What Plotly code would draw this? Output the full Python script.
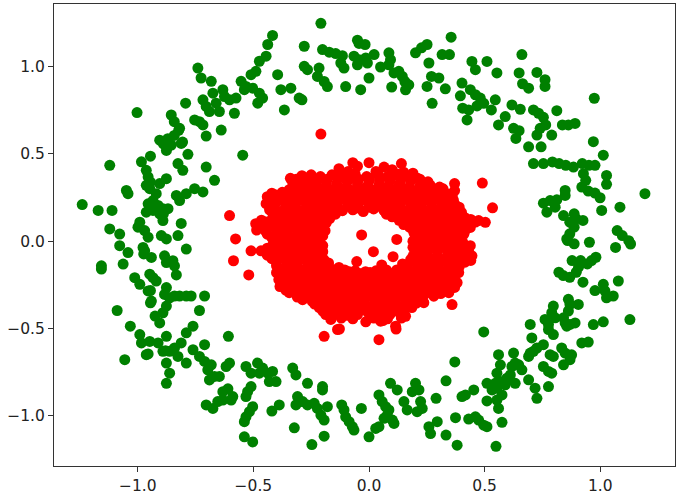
import plotly.graph_objects as go

# Points as (x, y) pairs, grouped by region of the ring

# outer class, upper left arc
green_upper_left = [
    (-0.417, 1.179), (-0.438, 1.127), (-0.445, 1.060), (-0.474, 1.031), (-0.489, 0.973),
    (-0.510, 0.954), (-0.553, 0.916), (-0.532, 0.887), (-0.503, 0.877), (-0.474, 0.848),
    (-0.460, 0.820), (-0.481, 0.791), (-0.539, 0.868), (-0.575, 0.820), (-0.582, 0.733),
    (-0.632, 0.868), (-0.625, 0.829), (-0.603, 0.810), (-0.661, 0.791), (-0.647, 0.743),
    (-0.682, 0.916), (-0.675, 0.848), (-0.740, 0.992), (-0.726, 0.935), (-0.718, 0.810),
    (-0.704, 0.772), (-0.690, 0.743), (-0.754, 0.695), (-0.733, 0.685), (-0.718, 0.666),
    (-0.639, 0.637), (-0.704, 0.602), (-0.793, 0.791), (-0.855, 0.723), (-0.842, 0.685),
    (-0.819, 0.647), (-0.905, 0.579), (-0.876, 0.570), (-0.855, 0.551), (-0.812, 0.560),
    (-0.783, 0.498), (-0.984, 0.455), (-0.546, 0.493), (-1.003, 0.737), (-0.395, 0.954),
    (-0.381, 0.868), (-0.338, 0.877), (-0.302, 0.820), (-0.366, 0.752), (-0.870, 0.587),
    (-0.842, 0.606), (-0.823, 0.635), (-0.806, 0.568), (-0.889, 0.558), (-0.870, 0.539),
    (-0.945, 0.487), (-0.876, 0.520),
]

# outer class, upper right arc
green_upper_right = [
    (-0.208, 1.248), (-0.280, 1.117), (-0.280, 1.002), (-0.266, 0.983), (-0.290, 0.810),
    (-0.201, 1.098), (-0.172, 1.083), (-0.144, 1.075), (-0.115, 1.063), (-0.122, 1.021),
    (-0.108, 0.992), (-0.216, 0.992), (-0.223, 0.944), (-0.194, 0.915), (-0.180, 0.886),
    (-0.101, 0.886), (-0.050, 1.152), (-0.043, 1.133), (-0.017, 1.127), (-0.065, 1.060),
    (-0.043, 1.040), (-0.014, 1.050), (0.022, 1.069), (-0.050, 1.011), (-0.007, 1.021),
    (0.000, 0.935), (-0.036, 0.868), (0.050, 0.998), (0.086, 1.079), (0.093, 1.040),
    (0.086, 1.011), (0.108, 0.964), (0.129, 0.973), (0.144, 0.944), (0.155, 0.915),
    (0.172, 0.896), (0.158, 0.867), (0.098, 0.883), (0.201, 1.079), (0.227, 1.108),
    (0.251, 1.127), (0.259, 1.021), (0.270, 0.944), (0.302, 0.935), (0.251, 0.887),
    (0.330, 0.873), (0.273, 0.790), (0.316, 1.069), (0.348, 1.069), (0.355, 1.169),
    (0.402, 0.906), (0.395, 0.833), (0.405, 0.762), (0.424, 0.695), (0.445, 1.030),
    (0.460, 0.983), (0.510, 1.030), (0.553, 0.964), (0.438, 0.868), (0.460, 0.839),
    (0.481, 0.820), (0.496, 0.790), (0.467, 0.775), (0.431, 0.752), (0.546, 0.810),
    (0.529, 0.752), (0.560, 0.666), (0.589, 0.714), (0.618, 0.781), (0.654, 0.756),
    (0.625, 0.647), (0.649, 0.633), (0.635, 0.589), (0.661, 1.069), (0.649, 0.964),
    (0.664, 0.902), (0.690, 0.877), (0.726, 0.967), (0.761, 0.925), (0.761, 0.887),
    (0.690, 0.541), (0.744, 0.541), (0.711, 0.752), (0.733, 0.733), (0.754, 0.710),
    (0.764, 0.666), (0.740, 0.647), (0.726, 0.608), (0.790, 0.608), (0.812, 0.748),
    (0.836, 0.666), (0.862, 0.666), (0.891, 0.675), (0.974, 0.819), (0.970, 0.570),
    (1.013, 0.493), (0.711, 0.445), (0.754, 0.445), (0.793, 0.454), (0.822, 0.445),
    (0.851, 0.435), (0.884, 0.425), (0.922, 0.445), (0.951, 0.435), (0.977, 0.435),
    (0.927, 0.387), (0.937, 0.349), (0.920, 0.310), (0.948, 0.287), (0.977, 0.276),
    (0.999, 0.249), (1.027, 0.377), (1.027, 0.326), (0.848, 0.291), (0.848, 0.262),
    (0.812, 0.237), (0.754, 0.218), (0.783, 0.233), (0.805, 0.195), (1.085, 0.195),
    (1.193, 0.272), (1.006, 0.176),
]

# outer class, left side
green_left = [
    (-1.121, 0.435), (-0.826, 0.445), (-0.805, 0.406), (-0.704, 0.425), (-0.668, 0.349),
    (-0.963, 0.406), (-0.955, 0.368), (-0.963, 0.320), (-0.905, 0.330), (-0.876, 0.358),
    (-1.049, 0.291), (-1.042, 0.272), (-0.948, 0.301), (-0.920, 0.272), (-0.833, 0.262),
    (-0.819, 0.233), (-0.790, 0.272), (-0.754, 0.301), (-0.718, 0.282), (-1.240, 0.210),
    (-1.171, 0.176), (-1.111, 0.176), (-0.955, 0.214), (-0.934, 0.233), (-0.912, 0.205),
    (-0.963, 0.166), (-0.934, 0.176), (-0.891, 0.186), (-0.869, 0.186), (-0.905, 0.157),
    (-0.891, 0.118), (-0.812, 0.102), (-0.991, 0.109), (-0.999, 0.080), (-0.970, 0.061),
    (-1.121, 0.070), (-1.078, 0.041), (-0.898, 0.032), (-0.876, 0.013), (-0.826, 0.032),
    (-0.790, -0.045), (-0.977, -0.036), (-0.970, -0.055), (-0.941, -0.093), (-1.078, -0.026),
    (-1.042, -0.065), (-1.063, -0.131), (-1.157, -0.141), (-1.157, -0.160), (-0.884, -0.084),
    (-0.876, -0.122), (-0.848, -0.112), (-0.841, -0.141), (-0.833, -0.193), (-1.013, -0.209),
    (-0.991, -0.247), (-0.948, -0.189), (-0.934, -0.209), (-0.920, -0.228), (-0.955, -0.285),
    (-0.941, -0.343), (-0.876, -0.266), (-0.884, -0.305), (-0.862, -0.324), (-0.841, -0.314),
    (-0.819, -0.314), (-0.790, -0.314), (-0.769, -0.314), (-0.711, -0.314), (-0.945, 0.338),
    (-0.889, 0.157), (-0.955, 0.023), (-0.974, -0.073), (-0.945, -0.283),
]

# outer class, lower left arc
green_lower_left = [
    (-1.089, -0.397), (-0.945, -0.353), (-0.925, -0.429), (-0.905, -0.468), (-0.891, -0.410),
    (-0.876, -0.372), (-0.733, -0.397), (-1.032, -0.487), (-0.991, -0.535), (-0.984, -0.583),
    (-0.948, -0.574), (-0.912, -0.583), (-0.876, -0.545), (-0.963, -0.650), (-1.056, -0.679),
    (-0.891, -0.631), (-0.862, -0.631), (-0.841, -0.612), (-0.812, -0.583), (-0.790, -0.525),
    (-0.761, -0.487), (-0.876, -0.698), (-0.862, -0.756), (-0.876, -0.814), (-0.826, -0.660),
    (-0.790, -0.698), (-0.761, -0.622), (-0.733, -0.660), (-0.711, -0.593), (-0.711, -0.689),
    (-0.682, -0.708), (-0.697, -0.737), (-0.668, -0.775), (-0.690, -0.795), (-0.647, -0.775),
    (-0.608, -0.545), (-0.603, -0.698), (-0.618, -0.718), (-0.632, -0.862), (-0.610, -0.846),
    (-0.589, -0.890), (-0.596, -0.910), (-0.632, -0.910), (-0.654, -0.919), (-0.704, -0.938),
    (-0.675, -0.958), (-0.532, -0.718), (-0.510, -0.756), (-0.482, -0.698), (-0.460, -0.727),
    (-0.438, -0.756), (-0.417, -0.746), (-0.402, -0.804), (-0.431, -0.804), (-0.474, -0.756),
    (-0.510, -0.833), (-0.525, -0.862), (-0.532, -0.890), (-0.503, -0.948), (-0.517, -0.977),
    (-0.532, -1.006), (-0.539, -1.034), (-0.539, -1.121), (-0.503, -1.150), (-0.388, -0.938),
    (-0.420, -0.973), (-0.330, -0.727), (-0.316, -0.766), (-0.266, -0.814), (-0.201, -0.833),
    (-0.201, -0.852), (-0.309, -0.890), (-0.302, -0.919), (-0.316, -0.938), (-0.287, -0.919),
    (-0.266, -0.938), (-0.237, -0.929), (-0.223, -0.958), (-0.180, -0.948), (-0.208, -0.996),
    (-0.194, -1.025), (-0.323, -1.069), (-0.194, -1.117), (-0.247, -1.165), (-0.118, -0.938),
    (-0.108, -0.967), (-0.101, -1.006), (-0.086, -1.034), (-0.065, -1.082), (-0.072, -1.063),
    (-0.033, -0.958), (0.000, -1.121), (-0.955, -0.646), (-0.880, -0.627),
]

# outer class, lower right arc
green_lower_right = [
    (0.043, -0.881), (0.057, -0.919), (0.072, -0.948), (0.086, -0.967), (0.079, -0.996),
    (0.101, -1.025), (0.108, -1.044), (0.043, -1.063), (0.029, -1.073), (0.065, -1.015),
    (0.093, -0.814), (0.122, -0.852), (0.151, -0.919), (0.165, -0.967), (0.201, -0.814),
    (0.216, -0.852), (0.187, -0.862), (0.223, -0.919), (0.230, -0.958), (0.208, -0.977),
    (0.259, -1.063), (0.266, -1.102), (0.295, -1.034), (0.333, -1.111), (0.381, -1.169),
    (0.290, -0.900), (0.333, -0.800), (0.371, -0.692), (0.496, -0.520), (0.374, -1.011),
    (0.431, -1.019), (0.460, -1.006), (0.474, -1.025), (0.496, -1.054), (0.510, -1.063),
    (0.575, -1.038), (0.549, -1.175), (0.402, -0.890), (0.417, -0.881), (0.453, -0.852),
    (0.510, -0.814), (0.510, -0.915), (0.532, -0.852), (0.553, -0.842), (0.553, -0.910),
    (0.560, -0.958), (0.546, -0.814), (0.568, -0.804), (0.553, -0.756), (0.568, -0.708),
    (0.560, -0.650), (0.575, -0.881), (0.589, -0.823), (0.596, -0.785), (0.611, -0.766),
    (0.618, -0.718), (0.632, -0.698), (0.632, -0.814), (0.625, -0.641), (0.647, -0.708),
    (0.661, -0.737), (0.690, -0.660), (0.697, -0.641), (0.711, -0.631), (0.726, -0.612),
    (0.704, -0.554), (0.697, -0.477), (0.690, -0.794), (0.718, -0.842), (0.726, -0.900),
    (0.754, -0.593), (0.754, -0.718), (0.776, -0.746), (0.790, -0.756), (0.776, -0.833),
    (0.783, -0.650), (0.797, -0.660), (0.833, -0.612), (0.848, -0.641), (0.876, -0.651),
    (0.841, -0.708), (0.869, -0.679), (0.776, -0.477), (0.776, -0.506), (0.797, -0.535),
    (0.761, -0.448), (0.797, -0.372), (0.790, -0.410), (0.805, -0.439), (0.848, -0.468),
    (0.855, -0.487), (0.869, -0.477), (0.891, -0.468), (0.841, -0.439), (0.862, -0.400),
    (0.869, -0.362), (0.905, -0.362), (0.920, -0.583), (0.948, -0.578), (0.970, -0.478),
    (1.013, -0.462), (1.128, -0.449),
]

# outer class, right side
green_right = [
    (0.887, 0.157), (0.896, 0.128), (0.868, 0.109), (0.925, 0.119), (0.887, 0.080),
    (0.868, 0.042), (0.859, 0.004), (0.887, -0.015), (0.953, -0.006), (0.878, -0.111),
    (0.915, -0.111), (0.906, -0.149), (0.944, -0.130), (0.962, -0.111), (0.981, -0.092),
    (0.821, -0.178), (0.840, -0.197), (0.868, -0.207), (0.896, -0.178), (0.925, -0.235),
    (0.977, -0.283), (0.769, 0.166), (0.841, 0.147), (0.855, 0.013), (1.073, 0.061),
    (1.095, 0.032), (1.123, 0.003), (1.131, -0.016), (1.066, -0.036), (1.013, -0.247),
    (1.020, -0.285), (1.027, -0.324), (1.056, -0.314), (1.078, -0.228), (0.862, -0.333),
]

# inner class: edge points and the main body of the small ring
red_ring = [
    (-0.07, 0.45), (-0.05, 0.43), (0.0, 0.45), (0.065, 0.425), (0.14, 0.445),
    (-0.13, 0.415), (-0.09, 0.40), (0.03, 0.40), (0.10, 0.41), (0.15, 0.395), (0.19, 0.39),
    (-0.34, 0.36), (-0.29, 0.375), (-0.25, 0.38), (-0.21, 0.37), (-0.16, 0.38), (-0.11, 0.37),
    (-0.06, 0.385), (-0.01, 0.37), (0.04, 0.38), (0.08, 0.37), (0.12, 0.385), (0.17, 0.37),
    (0.21, 0.36),
    (-0.33, 0.335), (-0.28, 0.345), (-0.235, 0.33), (-0.185, 0.345), (-0.14, 0.33),
    (-0.095, 0.345), (-0.05, 0.335), (0.0, 0.345), (0.045, 0.33), (0.09, 0.345), (0.135, 0.335),
    (0.18, 0.345), (0.225, 0.33), (0.255, 0.34), (0.37, 0.33),
    (-0.345, 0.295), (-0.30, 0.305), (-0.26, 0.29), (-0.215, 0.305), (-0.17, 0.295),
    (-0.125, 0.305), (-0.08, 0.29), (-0.035, 0.30), (0.01, 0.295), (0.055, 0.305), (0.10, 0.29),
    (0.145, 0.30), (0.19, 0.29), (0.235, 0.305), (0.28, 0.295), (0.32, 0.30), (0.37, 0.29),
    (0.49, 0.333),
    (-0.44, 0.255), (-0.40, 0.265), (-0.355, 0.25), (-0.31, 0.265), (-0.265, 0.255),
    (-0.22, 0.265), (-0.175, 0.25), (-0.13, 0.26), (-0.085, 0.265), (-0.04, 0.25), (0.005, 0.26),
    (0.05, 0.255), (0.095, 0.265), (0.14, 0.25), (0.185, 0.26), (0.23, 0.255), (0.275, 0.265),
    (0.32, 0.25), (0.36, 0.26),
    (-0.445, 0.215), (-0.40, 0.225), (-0.36, 0.21), (-0.315, 0.225), (-0.27, 0.215),
    (-0.225, 0.22), (-0.18, 0.21), (-0.135, 0.225), (-0.09, 0.215), (-0.045, 0.225), (0.0, 0.21),
    (0.045, 0.22), (0.09, 0.225), (0.135, 0.21), (0.18, 0.22), (0.225, 0.215), (0.27, 0.225),
    (0.315, 0.21), (0.355, 0.22), (0.375, 0.205),
    (-0.43, 0.18), (-0.385, 0.17), (-0.34, 0.185), (-0.295, 0.175), (-0.25, 0.18),
    (-0.205, 0.17), (-0.16, 0.185), (-0.115, 0.175), (-0.07, 0.18), (-0.025, 0.17), (0.02, 0.185),
    (0.065, 0.175), (0.11, 0.18), (0.155, 0.17), (0.20, 0.185), (0.245, 0.175), (0.29, 0.18),
    (0.335, 0.17), (0.38, 0.185), (0.40, 0.165), (0.534, 0.191),
    (-0.603, 0.147), (-0.395, 0.14), (-0.35, 0.13), (-0.305, 0.145), (-0.26, 0.135),
    (-0.215, 0.14), (-0.17, 0.13),
    (0.10, 0.14), (0.145, 0.13), (0.19, 0.145), (0.235, 0.135), (0.28, 0.14), (0.325, 0.13),
    (0.37, 0.145), (0.415, 0.135),
    (-0.49, 0.10), (-0.445, 0.11), (-0.40, 0.095), (-0.355, 0.105), (-0.31, 0.10),
    (-0.265, 0.11), (-0.22, 0.095), (-0.185, 0.105),
    (0.15, 0.095), (0.195, 0.11), (0.24, 0.10), (0.285, 0.105), (0.33, 0.095), (0.375, 0.11),
    (0.42, 0.10), (0.46, 0.11), (0.474, 0.118), (0.503, 0.108),
    (-0.486, 0.064), (-0.445, 0.055), (-0.40, 0.065), (-0.355, 0.05), (-0.31, 0.06),
    (-0.265, 0.065), (-0.22, 0.05), (-0.19, 0.06), (0.19, 0.065),
    (0.235, 0.05), (0.28, 0.06), (0.325, 0.065), (0.37, 0.05), (0.415, 0.06), (0.438, 0.079),
    (-0.577, 0.013), (-0.42, 0.02), (-0.375, 0.03), (-0.33, 0.015), (-0.285, 0.025),
    (-0.24, 0.02), (-0.2, 0.03), (-0.032, 0.036), (0.12, 0.01),
    (0.215, 0.015), (0.26, 0.03), (0.305, 0.02), (0.35, 0.025), (0.395, 0.015),
    (-0.415, -0.02), (-0.37, -0.015), (-0.325, -0.025), (-0.28, -0.02), (-0.235, -0.015),
    (-0.2, -0.025), (0.21, -0.015), (0.255, -0.02),
    (0.30, -0.025), (0.345, -0.015), (0.39, -0.02), (0.425, -0.03), (0.438, -0.026),
    (-0.51, -0.055), (-0.467, -0.055), (-0.42, -0.065), (-0.375, -0.055), (-0.33, -0.06),
    (-0.285, -0.065), (-0.24, -0.055), (-0.2, -0.06), (0.019, -0.06),
    (0.205, -0.065), (0.25, -0.06), (0.295, -0.055), (0.34, -0.065),
    (0.385, -0.06), (0.43, -0.055), (0.445, -0.084),
    (-0.42, -0.10), (-0.375, -0.095), (-0.33, -0.105), (-0.285, -0.10), (-0.24, -0.095),
    (-0.195, -0.105), (0.104, -0.089), (0.18, -0.105),
    (0.225, -0.095), (0.27, -0.10), (0.315, -0.105), (0.36, -0.095), (0.405, -0.10), (0.44, -0.11),
    (-0.586, -0.112), (-0.40, -0.14), (-0.355, -0.135), (-0.31, -0.145), (-0.265, -0.14),
    (-0.22, -0.135), (-0.175, -0.145), (-0.13, -0.15), (-0.053, -0.117), (0.055, -0.136),
    (0.165, -0.14),
    (0.21, -0.14), (0.255, -0.145), (0.30, -0.135), (0.345, -0.14), (0.39, -0.145),
    (-0.52, -0.193), (-0.40, -0.18), (-0.355, -0.175), (-0.31, -0.185), (-0.265, -0.18),
    (-0.22, -0.175), (-0.175, -0.185), (-0.13, -0.18), (-0.085, -0.175), (-0.04, -0.185),
    (0.005, -0.18), (0.05, -0.175), (0.095, -0.185), (0.14, -0.18), (0.185, -0.175),
    (0.23, -0.185), (0.275, -0.18), (0.32, -0.175), (0.36, -0.185), (0.388, -0.18),
    (-0.39, -0.22), (-0.345, -0.225), (-0.30, -0.215), (-0.255, -0.22), (-0.21, -0.225),
    (-0.165, -0.215), (-0.12, -0.22), (-0.075, -0.225), (-0.03, -0.215), (0.015, -0.22),
    (0.06, -0.225), (0.105, -0.215), (0.15, -0.22), (0.195, -0.225), (0.24, -0.215),
    (0.285, -0.22), (0.33, -0.225), (0.37, -0.215), (0.381, -0.237),
    (-0.385, -0.26), (-0.34, -0.255), (-0.295, -0.265), (-0.25, -0.26), (-0.205, -0.255),
    (-0.16, -0.265), (-0.115, -0.26), (-0.07, -0.255), (-0.025, -0.265), (0.02, -0.26),
    (0.065, -0.255), (0.11, -0.265), (0.155, -0.26), (0.20, -0.255), (0.245, -0.265),
    (0.29, -0.26), (0.335, -0.255), (0.37, -0.265),
    (-0.345, -0.295), (-0.30, -0.305), (-0.255, -0.30), (-0.21, -0.295), (-0.165, -0.305),
    (-0.12, -0.30), (-0.075, -0.295), (-0.03, -0.305), (0.015, -0.30), (0.06, -0.295),
    (0.105, -0.305), (0.15, -0.30), (0.195, -0.295), (0.24, -0.305), (0.273, -0.285),
    (0.31, -0.30), (0.345, -0.295),
    (-0.287, -0.335), (-0.245, -0.345), (-0.20, -0.34), (-0.155, -0.335), (-0.11, -0.345),
    (-0.065, -0.34), (-0.02, -0.335), (0.025, -0.345), (0.07, -0.34), (0.115, -0.335),
    (0.16, -0.345), (0.205, -0.34), (0.237, -0.352),
    (-0.215, -0.38), (-0.175, -0.375), (-0.13, -0.385), (-0.085, -0.38), (-0.04, -0.375),
    (0.005, -0.385), (0.05, -0.38), (0.095, -0.375), (0.14, -0.385), (0.185, -0.38),
    (0.359, -0.363),
    (-0.187, -0.42), (-0.14, -0.415), (-0.095, -0.425), (-0.05, -0.42), (0.0, -0.415),
    (0.045, -0.425), (0.09, -0.42), (0.135, -0.415), (0.158, -0.43),
    (-0.165, -0.448), (-0.014, -0.462), (0.05, -0.458), (0.115, -0.487), (0.06, -0.455),
    (-0.136, -0.506), (-0.194, -0.545), (0.043, -0.564), (0.117, -0.503), (-0.128, -0.503),
    (-0.208, 0.614),
]

# inner class: points sitting between the rows above, where the body is solid red
red_between = [
    (-0.315, 0.355), (-0.27, 0.36), (-0.225, 0.35), (-0.18, 0.355), (-0.135, 0.36),
    (-0.09, 0.35), (-0.045, 0.355), (0.0, 0.36), (0.045, 0.35), (0.09, 0.355), (0.135, 0.36),
    (0.18, 0.35), (0.22, 0.355),
    (-0.32, 0.315), (-0.275, 0.32), (-0.23, 0.31), (-0.185, 0.315), (-0.14, 0.32),
    (-0.095, 0.31), (-0.05, 0.315), (-0.005, 0.32), (0.04, 0.31), (0.085, 0.315), (0.13, 0.32),
    (0.175, 0.31), (0.22, 0.315), (0.265, 0.32), (0.305, 0.31),
    (-0.42, 0.275), (-0.375, 0.28), (-0.33, 0.27), (-0.285, 0.275), (-0.24, 0.28),
    (-0.195, 0.27), (-0.15, 0.275), (-0.105, 0.28), (-0.06, 0.27), (-0.015, 0.275), (0.03, 0.28),
    (0.075, 0.27), (0.12, 0.275), (0.165, 0.28), (0.21, 0.27), (0.255, 0.275), (0.30, 0.28),
    (0.34, 0.27),
    (-0.42, 0.235), (-0.375, 0.24), (-0.33, 0.23), (-0.29, 0.235), (-0.245, 0.24),
    (-0.20, 0.23), (-0.155, 0.235), (-0.11, 0.24), (-0.065, 0.23), (-0.02, 0.235), (0.025, 0.24),
    (0.07, 0.23), (0.115, 0.235), (0.16, 0.24), (0.205, 0.23), (0.25, 0.235), (0.295, 0.24),
    (0.335, 0.23), (0.365, 0.235),
    (-0.41, 0.195), (-0.36, 0.20), (-0.315, 0.19), (-0.27, 0.195), (-0.225, 0.20),
    (-0.18, 0.19), (-0.135, 0.195), (-0.09, 0.20), (-0.045, 0.19), (0.0, 0.195), (0.045, 0.20),
    (0.09, 0.19), (0.135, 0.195), (0.18, 0.20), (0.225, 0.19), (0.27, 0.195), (0.315, 0.20),
    (0.36, 0.19), (0.39, 0.195),
    (-0.415, 0.155), (-0.37, 0.16), (-0.325, 0.15), (-0.28, 0.155), (-0.235, 0.16),
    (-0.19, 0.15), (-0.145, 0.155), (0.075, 0.155), (0.12, 0.16),
    (0.165, 0.15), (0.21, 0.155), (0.255, 0.16), (0.30, 0.15), (0.345, 0.155), (0.39, 0.16),
    (-0.465, 0.12), (-0.42, 0.125), (-0.375, 0.115), (-0.33, 0.12), (-0.285, 0.125),
    (-0.24, 0.115), (-0.195, 0.12), (0.13, 0.12), (0.17, 0.125),
    (0.215, 0.115), (0.26, 0.12), (0.305, 0.125), (0.35, 0.115), (0.395, 0.12), (0.44, 0.125),
    (-0.465, 0.08), (-0.42, 0.085), (-0.375, 0.075), (-0.33, 0.08), (-0.285, 0.085),
    (-0.24, 0.075), (-0.2, 0.085), (0.175, 0.08), (0.21, 0.075),
    (0.255, 0.08), (0.30, 0.085), (0.345, 0.075), (0.39, 0.08), (0.43, 0.085),
    (-0.44, 0.04), (-0.395, 0.045), (-0.35, 0.035), (-0.305, 0.04), (-0.26, 0.045),
    (-0.215, 0.035), (0.195, 0.045), (0.235, 0.035), (0.28, 0.04),
    (0.325, 0.045), (0.37, 0.035), (0.41, 0.04),
    (-0.395, 0.0), (-0.35, 0.005), (-0.305, -0.005), (-0.26, 0.0), (-0.215, 0.005),
    (0.19, 0.0), (0.23, 0.005), (0.275, -0.005), (0.32, 0.0),
    (0.365, 0.005), (0.405, -0.005),
    (-0.44, -0.04), (-0.395, -0.035), (-0.35, -0.045), (-0.305, -0.04), (-0.26, -0.035),
    (-0.215, -0.045), (0.19, -0.035), (0.23, -0.045), (0.275, -0.04),
    (0.32, -0.035), (0.365, -0.045), (0.41, -0.04),
    (-0.44, -0.08), (-0.395, -0.075), (-0.35, -0.085), (-0.305, -0.08), (-0.26, -0.075),
    (-0.215, -0.085), (0.19, -0.085), (0.205, -0.08),
    (0.25, -0.075), (0.295, -0.085), (0.34, -0.08), (0.385, -0.075), (0.425, -0.085),
    (-0.40, -0.12), (-0.355, -0.115), (-0.31, -0.125), (-0.265, -0.12), (-0.22, -0.115),
    (-0.175, -0.125), (0.145, -0.13),
    (0.19, -0.115), (0.235, -0.125), (0.28, -0.12), (0.325, -0.115), (0.37, -0.125),
    (0.415, -0.12),
    (-0.375, -0.16), (-0.33, -0.155), (-0.285, -0.165), (-0.24, -0.16), (-0.195, -0.155),
    (-0.15, -0.165), (-0.105, -0.165), (-0.06, -0.17), (-0.015, -0.175), (0.03, -0.17),
    (0.075, -0.165), (0.12, -0.165), (0.165, -0.16), (0.21, -0.16), (0.255, -0.165),
    (0.30, -0.155), (0.345, -0.16), (0.38, -0.165),
    (-0.37, -0.20), (-0.325, -0.195), (-0.28, -0.205), (-0.235, -0.20), (-0.19, -0.195),
    (-0.145, -0.205), (-0.10, -0.20), (-0.055, -0.195), (-0.01, -0.205), (0.035, -0.20),
    (0.08, -0.195), (0.125, -0.205), (0.17, -0.20), (0.215, -0.195), (0.26, -0.205),
    (0.305, -0.20), (0.35, -0.195),
    (-0.365, -0.24), (-0.32, -0.235), (-0.275, -0.245), (-0.23, -0.24), (-0.185, -0.235),
    (-0.14, -0.245), (-0.095, -0.24), (-0.05, -0.235), (-0.005, -0.245), (0.04, -0.24),
    (0.085, -0.235), (0.13, -0.245), (0.175, -0.24), (0.22, -0.235), (0.265, -0.245),
    (0.31, -0.24), (0.355, -0.235),
    (-0.36, -0.28), (-0.32, -0.275), (-0.275, -0.285), (-0.23, -0.28), (-0.185, -0.275),
    (-0.14, -0.285), (-0.095, -0.28), (-0.05, -0.275), (-0.005, -0.285), (0.04, -0.28),
    (0.085, -0.275), (0.13, -0.285), (0.175, -0.28), (0.22, -0.275), (0.265, -0.285),
    (0.31, -0.28), (0.35, -0.275),
    (-0.31, -0.32), (-0.265, -0.315), (-0.22, -0.325), (-0.175, -0.32), (-0.13, -0.315),
    (-0.085, -0.325), (-0.04, -0.32), (0.005, -0.315), (0.05, -0.325), (0.095, -0.32),
    (0.14, -0.315), (0.185, -0.325), (0.225, -0.32), (0.28, -0.315),
    (-0.235, -0.36), (-0.195, -0.355), (-0.15, -0.365), (-0.105, -0.36), (-0.06, -0.355),
    (-0.015, -0.365), (0.03, -0.36), (0.075, -0.355), (0.12, -0.365), (0.165, -0.36),
    (0.205, -0.355),
    (-0.20, -0.40), (-0.155, -0.395), (-0.11, -0.405), (-0.065, -0.40), (-0.02, -0.395),
    (0.025, -0.405), (0.07, -0.40), (0.115, -0.395), (0.15, -0.405),
    (-0.12, -0.44), (-0.07, -0.445), (0.02, -0.44), (0.08, -0.445), (0.14, -0.44),
]

X_TICKS = [-1.0, -0.5, 0.0, 0.5, 1.0]
Y_TICKS = [-1.0, -0.5, 0.0, 0.5, 1.0]
TICK_TEXT = ['\u22121.0', '\u22120.5', '0.0', '0.5', '1.0']

green_points = (green_upper_left + green_upper_right + green_left
                + green_lower_left + green_lower_right + green_right)
red_points = red_ring + red_between

fig = go.Figure()

for points, color in [(green_points, '#008000'), (red_points, '#ff0000')]:
    fig.add_trace(go.Scatter(
        x=[p[0] for p in points],
        y=[p[1] for p in points],
        mode='markers',
        marker=dict(size=11, color=color, line=dict(width=0)),
        showlegend=False,
    ))

axis_style = dict(
    showgrid=False,
    zeroline=False,
    showline=True,
    mirror=True,
    linecolor='#333333',
    linewidth=1,
    ticks='outside',
    ticklen=5,
    tickwidth=1,
    tickcolor='#333333',
    tickfont=dict(family='DejaVu Sans', size=15.5, color='#222222'),
    automargin=False,
)

fig.update_xaxes(range=[-1.362, 1.323], tickvals=X_TICKS, ticktext=TICK_TEXT, **axis_style)
fig.update_yaxes(range=[-1.288, 1.359], tickvals=Y_TICKS, ticktext=TICK_TEXT, **axis_style)

fig.update_layout(
    width=681,
    height=502,
    margin=dict(l=54, r=6, t=4, b=36),
    plot_bgcolor='white',
    paper_bgcolor='white',
)

# the page body has a default 8px margin; remove it so the figure sits at the window corner
fig.write_html(
    "out.html",
    config={'displayModeBar': False},
    post_script="document.body.style.margin = '0';",
)
